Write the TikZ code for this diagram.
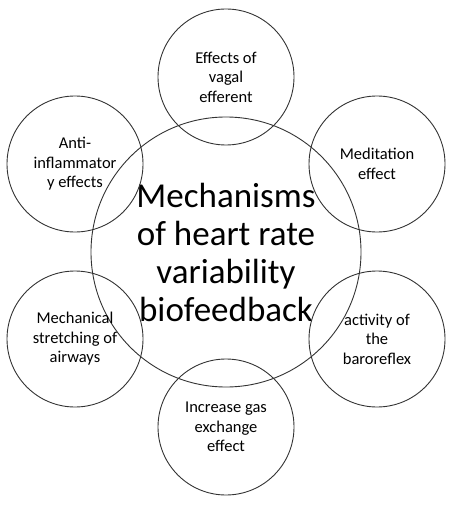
\documentclass[tikz,border=0pt]{standalone}
\usepackage{fontspec}
\setmainfont{Carlito}
\tikzset{
	mech/.style={circle, draw=black!80, line width=0.9pt, minimum size=136pt, inner sep=0pt, align=center, font=\fontsize{16.5}{19.5}\selectfont},
	core/.style={circle, draw=black!80, line width=0.9pt, minimum size=270pt, inner sep=0pt, align=center, font=\fontsize{35}{38}\selectfont}
}
\begin{document}
\begin{tikzpicture}[x=1pt,y=-1pt]
		\useasboundingbox (0,0) rectangle (450,505);
		\node (HRV) at (226,252) [core] {Mechanisms\\of heart rate\\variability\\biofeedback};
		
		\node (E1) at (226,77) [mech] {Effects of\\vagal\\efferent};
		\node (E2) at (377,164) [mech] {Meditation\\effect};
		\node (E3) at (377,339) [mech] {activity of\\the\\baroreflex};
		\node (E4) at (226,427) [mech] {Increase gas\\exchange\\effect};
		\node (E5) at (75,339) [mech] {Mechanical\\stretching of\\airways};
		\node (E6) at (75,164) [mech] {Anti-\\inflammator\\y effects};
		\end{tikzpicture}
\end{document}
